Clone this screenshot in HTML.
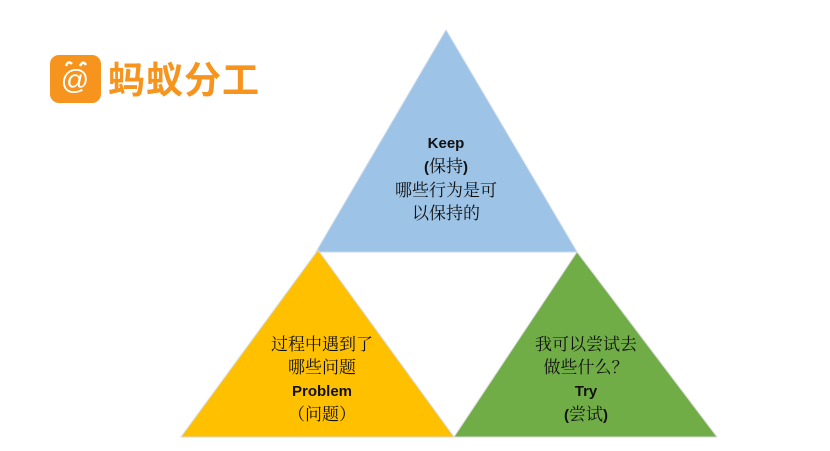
<!DOCTYPE html>
<html><head><meta charset="utf-8"><style>
body{margin:0;width:830px;height:451px;background:#fff;overflow:hidden;position:relative;font-family:"Liberation Sans","Noto Sans CJK SC",sans-serif}
.t{position:absolute;text-align:center;color:#111;font-size:17px;line-height:23px;font-family:"Liberation Serif","Noto Serif CJK SC",serif}
.t b{font-family:"Liberation Sans","Noto Sans CJK SC",sans-serif;font-size:15px}
</style></head><body>
<svg width="830" height="451" style="position:absolute;left:0;top:0">
<polygon points="446,30 316,252 577,252" fill="#9dc3e6" stroke="#c9d9ea" stroke-width="1"/>
<polygon points="318,250 181,437 454,437" fill="#ffc000" stroke="#d9d9d9" stroke-width="1"/>
<polygon points="577,252 454,437 717,437" fill="#70ad47" stroke="#d9d9d9" stroke-width="1"/>
<rect x="50" y="55" width="51" height="48" rx="9" fill="#f7941d"/>
<text x="75" y="89" text-anchor="middle" font-size="28" fill="#fff" font-family="Liberation Sans">@</text>
<path d="M66 66 q2 -6 6 -2 M80 66 q3 -6 6 -1" stroke="#fff" stroke-width="2.5" fill="none"/>
</svg>
<div style="position:absolute;left:108px;top:55px;font-size:37px;line-height:44px;color:#f7941d;font-weight:bold;letter-spacing:1px;font-family:'Noto Sans CJK SC',sans-serif">蚂蚁分工</div>
<div class="t" style="left:346px;width:200px;top:131px"><b>Keep</b><br><b>(</b>保持<b>)</b><br>哪些行为是可<br>以保持的</div>
<div class="t" style="left:222px;width:200px;top:333px">过程中遇到了<br>哪些问题<br><b>Problem</b><br>（问题）</div>
<div class="t" style="left:486px;width:200px;top:333px">我可以尝试去<br>做些什么？<br><b>Try</b><br><b>(</b>尝试<b>)</b></div>
</body></html>
